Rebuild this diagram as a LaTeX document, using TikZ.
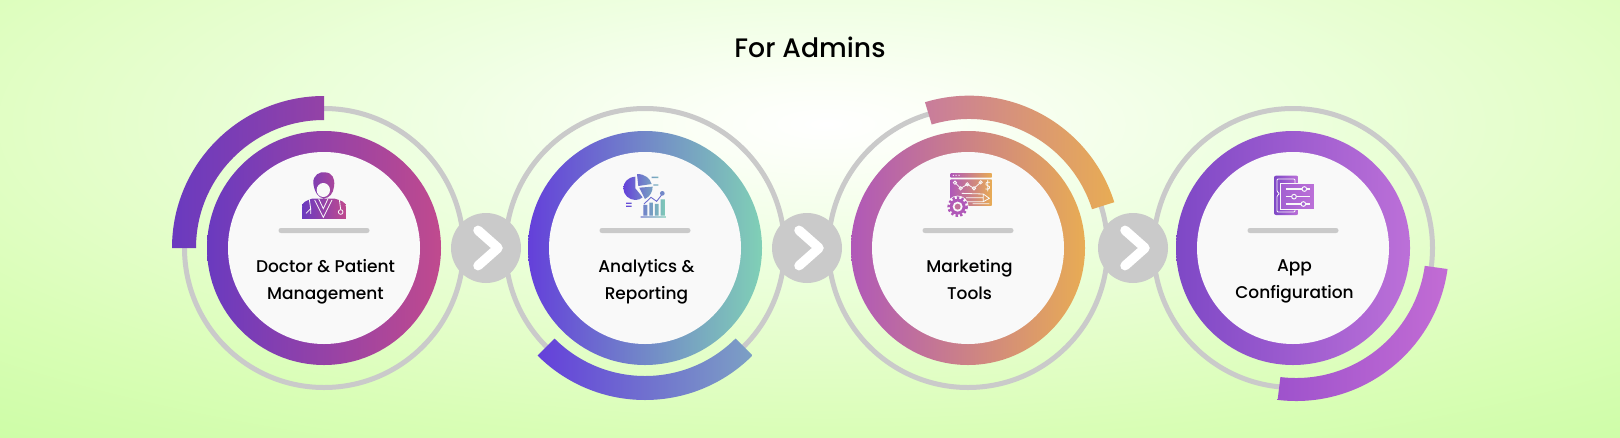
\documentclass[tikz,border=0pt]{standalone}
\usepackage{fontspec}
\setmainfont{Poppins Medium}
\usetikzlibrary{positioning,calc}
\definecolor{bgnear}{HTML}{FBFFF6}
\definecolor{bgtop}{HTML}{EFFFE2}
\definecolor{bgring}{HTML}{E3FEC8}
\definecolor{bgmid}{HTML}{D9FEB6}
\definecolor{bgedge}{HTML}{C8FCA0}
\definecolor{trackgray}{HTML}{CACACA}
\definecolor{discwhite}{HTML}{F9F9F9}
\definecolor{ringaL}{HTML}{6A3ABF}
\definecolor{ringaR}{HTML}{C04A8E}
\definecolor{arcaR}{HTML}{9442A6}
\definecolor{ringbL}{HTML}{6440DA}
\definecolor{ringbR}{HTML}{80D0B6}
\definecolor{arcbM}{HTML}{6A48D6}
\definecolor{arcbR}{HTML}{7CA0C4}
\definecolor{ringcL}{HTML}{B058B8}
\definecolor{ringcR}{HTML}{E8AC54}
\definecolor{arccL}{HTML}{C87C9C}
\definecolor{ringdL}{HTML}{7E48C6}
\definecolor{ringdR}{HTML}{BC70D8}
\definecolor{arcdL}{HTML}{9E52CC}
\definecolor{arcdR}{HTML}{C26CD4}
\pgfdeclareradialshading{bgglow}{\pgfpoint{0bp}{0bp}}{color(0bp)=(white); color(2.5bp)=(bgnear); color(7.7bp)=(bgtop); color(14.7bp)=(bgring); color(19.6bp)=(bgmid); color(28bp)=(bgedge); color(50bp)=(bgedge)}
\tikzset{
  ringbase/.style={circle,minimum size=234pt,inner sep=0pt,outer sep=0pt},
  track/.style={circle,draw=trackgray,line width=5pt,minimum size=279pt,inner sep=0pt},
  disc/.style={circle,fill=discwhite,minimum size=192pt,inner sep=0pt},
  sepbar/.style={rectangle,rounded corners=2.4pt,fill=trackgray,minimum width=91pt,minimum height=5pt,inner sep=0pt},
  labeltext/.style={align=center,font=\fontsize{17pt}{27pt}\selectfont,inner sep=0pt},
  nextbtn/.style={circle,fill=trackgray,minimum size=70pt,inner sep=0pt,outer sep=0pt},
  chev/.style={draw=white,line width=9.5pt,line cap=round,line join=round},
  iconline/.style={draw=discwhite,line width=0.8pt},
  iconzoom/.style={shift={#1},x=0.3333pt,y=-0.3333pt},
}
\begin{document}
\begin{tikzpicture}[x=1pt,y=1pt]
\useasboundingbox (0,0) rectangle (1620,-437);
\begin{scope}
\clip (0,0) rectangle (1620,-437);
\shade[shading=bgglow] (-474,276) rectangle (2126,-524);
\end{scope}
\node[font=\fontsize{26.7pt}{30pt}\selectfont,inner sep=0pt] (title) at (810,-47) {For Admins};

\node[ringbase,left color=ringaL,right color=ringaR] (ring1) at (324,-248) {};
\node[nextbtn,right=10pt of ring1] (next1) {};
\node[ringbase,left color=ringbL,right color=ringbR,right=7pt of next1] (ring2) {};
\node[nextbtn,right=10pt of ring2] (next2) {};
\node[ringbase,left color=ringcL,right color=ringcR,right=9pt of next2] (ring3) {};
\node[nextbtn,right=13pt of ring3] (next3) {};
\node[ringbase,left color=ringdL,right color=ringdR,right=8pt of next3] (ring4) {};

\node[track] (track1) at (ring1.center) {};
\node[track] (track2) at (ring2.center) {};
\node[track] (track3) at (ring3.center) {};
\node[track] (track4) at (ring4.center) {};

\shade[left color=ringaL,right color=arcaR] ($(ring1.center)+(90:152)$) arc[start angle=90,end angle=180,radius=152pt] -- ($(ring1.center)+(180:128)$) arc[start angle=180,end angle=90,radius=128pt] -- cycle;
\shade[left color=ringbL,middle color=arcbM,right color=arcbR] ($(ring2.center)+(225:152)$) arc[start angle=225,end angle=315,radius=152pt] -- ($(ring2.center)+(315:128)$) arc[start angle=315,end angle=225,radius=128pt] -- cycle;
\shade[left color=arccL,right color=ringcR] ($(ring3.center)+(1,0)+(106.8:152.3)$) arc[start angle=106.8,end angle=17.5,radius=152.3pt] -- ($(ring3.center)+(1,0)+(17.5:129)$) arc[start angle=17.5,end angle=106.8,radius=129pt] -- cycle;
\shade[left color=arcdL,right color=arcdR] ($(ring4.center)+(3,0)+(263.1:153)$) arc[start angle=263.1,end angle=352.1,radius=153pt] -- ($(ring4.center)+(3,0)+(352.1:130)$) arc[start angle=352.1,end angle=263.1,radius=130pt] -- cycle;

\node[disc] (disc1) at (ring1.center) {};
\node[disc] (disc2) at (ring2.center) {};
\node[disc] (disc3) at (ring3.center) {};
\node[disc] (disc4) at (ring4.center) {};

\node[sepbar] (bar1) at ($(ring1.center)+(0,17.5)$) {};
\node[sepbar] (bar2) at ($(ring2.center)+(0,17.5)$) {};
\node[sepbar] (bar3) at ($(ring3.center)+(0,17.5)$) {};
\node[sepbar] (bar4) at ($(ring4.center)+(0,17.5)$) {};

\node[labeltext] (label1) at ($(ring1.center)+(1.5,-33.5)$) {Doctor \& Patient\\Management};
\node[labeltext] (label2) at ($(ring2.center)+(1.5,-33.5)$) {Analytics \&\\Reporting};
\node[labeltext] (label3) at ($(ring3.center)+(1.5,-33.5)$) {Marketing\\Tools\vphantom{g}};
\node[labeltext] (label4) at ($(ring4.center)+(1.5,-33.5)$) {App\\Configuration};

\draw[chev] ($(next1.center)+(-8,17.7)$) -- ($(next1.center)+(12,0)$) -- ($(next1.center)+(-8,-17.7)$);
\draw[chev] ($(next2.center)+(-8,17.7)$) -- ($(next2.center)+(12,0)$) -- ($(next2.center)+(-8,-17.7)$);
\draw[chev] ($(next3.center)+(-8,17.7)$) -- ($(next3.center)+(12,0)$) -- ($(next3.center)+(-8,-17.7)$);

% doctor
\begin{scope}[iconzoom={(270,-150)}]
\begin{scope}
\clip (130,100) .. controls (128,75) and (150,64) .. (165,67) .. controls (187,68) and (196,85) .. (192,110) .. controls (190,130) and (178,145) .. (161,145) .. controls (145,145) and (133,125) .. (130,100)
  (96,207) -- (96,172) .. controls (96,155) and (110,152) .. (126,146) -- (194,146) .. controls (214,152) and (228,155) .. (228,172) -- (228,207) -- cycle;
\shade[left color=ringaL,right color=ringaR] (96,60) rectangle (228,207);
\end{scope}
\fill[discwhite] (160,120) ellipse[x radius=20,y radius=21];
\draw[iconline] (118,148) -- (122,176) -- (108,190) (122,176) -- (122,192);
\draw[iconline] (208,148) -- (212,178);
\draw[iconline] (212,186) circle[radius=7];
\draw[iconline] (134,150) -- (160,202) -- (186,150) (146,146) -- (160,176) -- (174,146);
\end{scope}

% charts
\begin{scope}[iconzoom={(570,-150)}]
\begin{scope}
\clip (196,80) .. controls (172,82) and (160,98) .. (160,115) .. controls (160,135) and (178,150) .. (196,150) .. controls (205,150) and (212,147) .. (218,142) -- (196,115) -- cycle
  (201,72) .. controls (225,72) and (240,85) .. (245,102) -- (205,108) -- cycle
  (208,113) -- (248,110) .. controls (248,125) and (240,140) .. (225,147) -- cycle
  (245,80) rectangle (265,84) (250,103) rectangle (265,107)
  (168,158) rectangle (185,162) (168,167) rectangle (185,171)
  (220,165) rectangle (232,197) (238,158) rectangle (249,197) (255,162) rectangle (266,197) (272,148) rectangle (285,197)
  (212,199) rectangle (290,203);
\shade[left color=ringbL,right color=ringbR] (160,72) rectangle (290,203);
\end{scope}
\draw[draw=ringbL!70!ringbR,line width=0.9pt] (222,162) -- (243,142) -- (260,154) -- (277,132);
\fill[ringbL!50!ringbR] (277,130) circle[radius=7];
\end{scope}

% marketing
\begin{scope}[iconzoom={(890,-150)}]
\begin{scope}
\clip (182,69) rectangle (305,83) (182,88) rectangle (305,168);
\shade[left color=ringcL,right color=ringcR] (182,69) rectangle (305,168);
\end{scope}
\fill[discwhite] (190,76) circle[radius=2] (198,76) circle[radius=2] (207,76) circle[radius=2];
\draw[iconline] (195,98) -- (212,115) -- (232,103) -- (252,115) -- (272,97);
\draw[iconline] (195,98) circle[radius=5] (212,115) circle[radius=5] (232,103) circle[radius=5] (252,115) circle[radius=5] (272,97) circle[radius=5];
\draw[iconline] (300,97) .. controls (286,92) and (284,106) .. (293,107) .. controls (303,108) and (300,122) .. (286,117) (293,90) -- (293,124);
\draw[iconline] (215,130) -- (280,132) -- (298,145) -- (280,155) -- (225,155) (280,132) -- (280,155) (228,143) -- (280,143) (248,161) -- (298,161);
\fill[discwhite] (203,170) circle[radius=33];
\draw[draw=ringcL,line width=2.6pt,dash pattern=on 2.4pt off 2.2pt] (203,170) circle[radius=27];
\fill[ringcL] (203,170) circle[radius=24];
\fill[discwhite] (203,170) circle[radius=15];
\fill[ringcL!70!ringcR] (203,170) circle[radius=9];
\end{scope}

% settings
\begin{scope}[iconzoom={(1265,-165)}]
\shade[left color=ringdL,right color=ringdR,rounded corners=2pt] (27,32) rectangle (100,150);
\draw[iconline,rounded corners=1pt] (36,42) -- (90,42) -- (90,141) -- (36,141) -- (36,92) -- (44,86) -- (36,80) -- cycle;
\shade[left color=ringdL!40!ringdR,right color=ringdR,draw=discwhite,line width=0.6pt] (47,55) rectangle (147,133);
\draw[draw=discwhite,line width=1.3pt] (62,72) -- (135,72) (62,95) -- (135,95) (62,117) -- (135,117);
\filldraw[fill=ringdL!40!ringdR,draw=discwhite,line width=1pt] (118,72) circle[radius=7] (87,95) circle[radius=7] (115,117) circle[radius=7];
\end{scope}
\end{tikzpicture}
\end{document}
